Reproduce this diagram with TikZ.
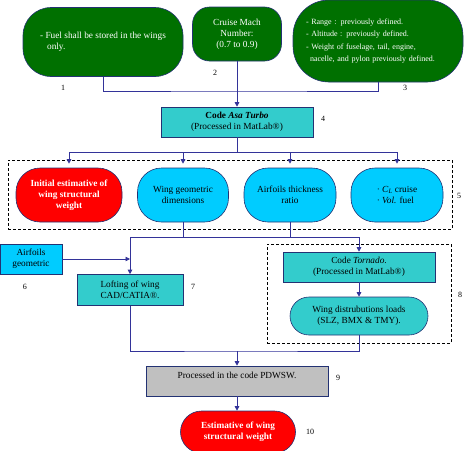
\documentclass[tikz,border=0pt]{standalone}
\usepackage{fontspec}
\setmainfont{Liberation Serif}
\usetikzlibrary{arrows.meta}

\definecolor{leaf}{RGB}{0,112,0}
\definecolor{lagoon}{RGB}{51,204,204}
\definecolor{sky}{RGB}{0,204,255}
\definecolor{alarm}{RGB}{255,0,0}
\definecolor{ash}{RGB}{192,192,192}
\definecolor{wire}{RGB}{51,51,153}
\definecolor{rim}{RGB}{35,50,115}

\tikzset{
  inbox/.style={draw=rim,line width=0.6pt,fill=leaf,text=white,align=left,inner sep=2pt},
  stage/.style={draw=rim,line width=0.6pt,fill=lagoon,minimum height=30,align=center,inner sep=2pt},
  pill/.style={draw=rim,line width=0.6pt,fill=sky,minimum width=92,minimum height=54,rounded corners=24,align=center,inner sep=2pt},
  hot/.style={pill,fill=alarm,text=white,font=\fontsize{9.3}{11}\selectfont\bfseries},
  group/.style={draw,dashed,dash pattern=on 3pt off 2pt,line width=0.7pt},
  num/.style={font=\fontsize{8}{9}\selectfont},
  link/.style={draw=wire,line width=0.8pt},
  feed/.style={link,-{Triangle[length=4.5pt,width=4.5pt]}}
}

\begin{document}
\begin{tikzpicture}[x=1pt,y=-1pt,font=\fontsize{9.3}{11}\selectfont]
    \useasboundingbox (0,0) rectangle (474,450);
    %% Given data
    \node[inbox,minimum width=160,minimum height=69,rounded corners=28] (fuel) at (103,42) {- Fuel shall be stored in the wings\\\hspace*{7pt}only.};
    \node[inbox,minimum width=89,minimum height=54,rounded corners=17,align=center] (mach) at (237,34) {Cruise Mach\\Number:\\(0.7 to 0.9)};
    \node[inbox,minimum width=170,minimum height=82,rounded corners=36,text width=144,font=\fontsize{8}{12.5}\selectfont] (given) at (378,41) {- Range : previously defined.\\- Altitude : previously defined.\\- Weight of fuselage, tail, engine,\\\hspace*{4pt}nacelle, and pylon previously defined.};
    \node[num] (l1) at (63,88) {1};
    \node[num] (l2) at (215,73) {2};
    \node[num] (l3) at (405,88) {3};
    %% Asa Turbo
    \node[stage,minimum width=152] (asa) at (237,122) {\textbf{Code \textit{Asa Turbo}}\\(Processed in MatLab®)};
    \node[num] (l4) at (323,119) {4};
    \coordinate (join) at (237,91);
    \draw[link] (fuel.south) |- (join) -| (given.south);
    \draw[feed] (mach.south) -- (asa.north);
    %% Outputs of Asa Turbo
    \node[group,minimum width=444,minimum height=69] (outs) at (230,194.5) {};
    \node[hot,minimum width=106] (init) at (69,195) {Initial estimative of\\wing structural\\weight};
    \node[pill,minimum width=91] (geom) at (183,195) {Wing geometric\\dimensions};
    \node[pill] (thick) at (290,195) {Airfoils thickness\\ratio};
    \node[pill,align=left] (cl) at (397,195) {· \textit{C}\textsubscript{\textit{L}} cruise\\· \textit{Vol.} fuel};
    \node[num] (l5) at (459,196) {5};
    \coordinate (split) at (237,152);
    \draw[link] (asa.south) -- (split);
    \draw[link] (init.north |- split) -- (cl.north |- split);
    \foreach \n in {init,geom,thick,cl}
        \draw[feed,shorten >=4pt] (\n.north |- split) -- (\n.north);
    %% Lofting and Tornado
    \node[stage,fill=sky,minimum width=62] (foil) at (31,259) {Airfoils\\geometric};
    \node[num] (l6) at (25,287) {6};
    \node[stage,minimum width=106,minimum height=31] (loft) at (130,290) {Lofting of wing\\CAD/CATIA®.};
    \node[num] (l7) at (193,287) {7};
    \node[group,minimum width=184,minimum height=99] (tgroup) at (359,293.5) {};
    \node[stage,minimum width=152] (torn) at (359,267) {Code \textit{Tornado}.\\(Processed in MatLab®)};
    \node[stage,minimum width=138,minimum height=38,rounded corners=19] (loads) at (359,316) {Wing distrubutions loads\\(SLZ, BMX \& TMY).};
    \node[num] (l8) at (460,295) {8};
    \coordinate (m1) at (130,237);
    \coordinate (m2) at (359,237);
    \draw[link] (geom.south) -- (geom.south |- m1);
    \draw[link] (thick.south) -- (thick.south |- m1);
    \draw[link] (m1) -- (m2);
    \draw[feed] (m1) -- (loft.north);
    \draw[feed] (m2) -- (torn.north);
    \draw[feed] (foil.east) -- (foil.east -| m1);
    \draw[feed] (torn.south) -- (loads.north);
    %% PDWSW
    \node[stage,fill=ash,minimum width=182,text depth=12pt] (pdwsw) at (237,381) {Processed in the code PDWSW.};
    \node[num] (l9) at (338,378) {9};
    \node[hot,minimum width=115,minimum height=42,rounded corners=21] (final) at (238,432) {Estimative of wing\\structural weight};
    \node[num] (l10) at (310,432) {10};
    \coordinate (m3) at (237,351);
    \draw[link] (loft.south) |- (m3) -| (loads.south);
    \draw[feed] (m3) -- (pdwsw.north);
    \draw[feed] (pdwsw.south) -- (pdwsw.south |- final.north);
\end{tikzpicture}
\end{document}
